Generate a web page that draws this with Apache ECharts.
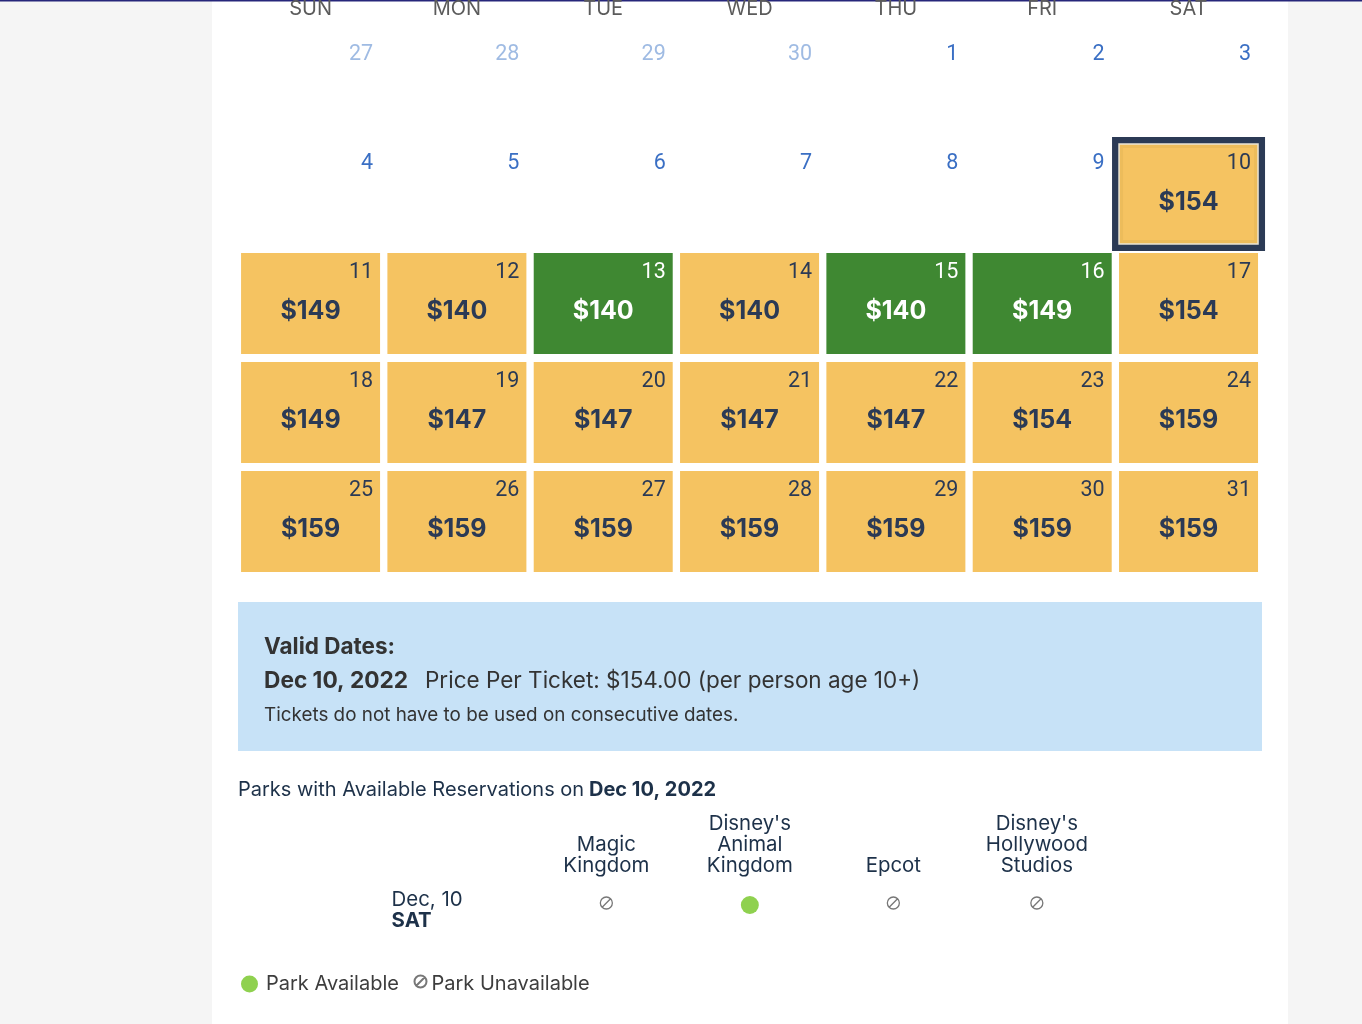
<!DOCTYPE html>
<html><head><meta charset="utf-8">
<style>html,body{margin:0;padding:0;background:#f5f5f5}#c{width:1362px;height:1024px}</style>
<script src="https://cdn.jsdelivr.net/npm/echarts@6/dist/echarts.min.js"></script>
</head><body><div id="c"></div>
<script>
const weekDays = ['SUN','MON','TUE','WED','THU','FRI','SAT'];
const weeks = ['w1','w2','w3','w4','w5'];
const dayNumbers = [27,28,29,30,1,2,3, 4,5,6,7,8,9,10, 11,12,13,14,15,16,17, 18,19,20,21,22,23,24, 25,26,27,28,29,30,31];
const prices = [null,null,null,null,null,null,null, null,null,null,null,null,null,154, 149,140,140,140,140,149,154, 149,147,147,147,147,154,159, 159,159,159,159,159,159,159];
const cellKinds = ['prev','prev','prev','prev','day','day','day', 'day','day','day','day','day','day','selected', 'gold','gold','green','gold','green','green','gold', 'gold','gold','gold','gold','gold','gold','gold', 'gold','gold','gold','gold','gold','gold','gold'];
const parks = ["Magic\nKingdom","Disney's\nAnimal\nKingdom","Epcot","Disney's\nHollywood\nStudios"];
const parkDates = ['{r|Dec, 10}\n{b|SAT}'];
const parkAvailable = [0,1,0,0];

const INK='#2b3a55', FONT='Inter, "Liberation Sans", sans-serif';
const GOLD='#f5c361', GREEN='#3f8832';
const cellData = dayNumbers.map((d,i)=>[i%7,Math.floor(i/7),d,prices[i],cellKinds[i]]);

function renderCell(params, api){
  const col=api.value(0), row=api.value(1), day=api.value(2), price=api.value(3), kind=cellKinds[params.dataIndex];
  const c=api.coord([col,row]);
  const w=139, h=101, x=c[0]-w/2, y=c[1]-h/2;
  const ch=[];
  if(kind==='selected'){
    ch.push({type:'rect',shape:{x:x-7,y:y-7,width:w+14,height:h+13},style:{fill:'#2b3a55'}});
    ch.push({type:'rect',shape:{x:x,y:y,width:w,height:h-1},style:{fill:GOLD,stroke:'#e9e4d4',lineWidth:1.5}});
    ch.push({type:'rect',shape:{x:x+2.5,y:y+2.5,width:w-5,height:h-6},style:{fill:'none',stroke:'rgba(190,145,60,0.15)',lineWidth:3}});
  } else if(kind==='gold'||kind==='green'){
    ch.push({type:'rect',shape:{x:x,y:y,width:w,height:h},style:{fill:kind==='gold'?GOLD:GREEN}});
  }
  const priced=kind==='gold'||kind==='green'||kind==='selected';
  const dayColor= kind==='prev'?'#9fbbe3': kind==='day'?'#3a6fc4': kind==='green'?'#ffffff':INK;
  ch.push({type:'text',style:{text:String(day),x:x+132,y:y+19.5,align:'right',verticalAlign:'middle',fill:dayColor,font:'400 21.5px Roboto, '+FONT}});
  if(priced){
    ch.push({type:'text',style:{text:'$'+price,x:c[0],y:y+58.5,align:'center',verticalAlign:'middle',fill:kind==='green'?'#ffffff':INK,font:'700 25px '+FONT}});
  }
  return {type:'group',children:ch};
}

const textEl=(text,x,y,font,fill)=>({type:'text',z:5,style:{text,x,y,font:font+' '+FONT,fill,verticalAlign:'middle',align:'left'}});
const NO_SYMBOL='path://M12 2a10 10 0 1 0 0.01 0zM5 19L19 5';
const NO_LEGEND_ICON='path://M12 2a10 10 0 1 0 0.01 0zM5 19L19 5M12 30L12 30';

const chart=echarts.init(document.getElementById('c'),null,{renderer:'canvas'});
chart.setOption({
  animation:false,
  backgroundColor:'#f5f5f5',
  grid:[
    {left:237.4,top:31,width:1024.3,height:545,containLabel:false,outerBoundsMode:'none'},
    {left:534.6,top:880,width:574,height:50,outerBoundsMode:'none'}
  ],
  xAxis:[
    {gridIndex:0,type:'category',position:'top',data:weekDays,axisLine:{show:false},axisTick:{show:false},splitLine:{show:false},
     axisLabel:{color:'#5b5b5b',fontFamily:'Inter',fontSize:20,margin:12.5,interval:0}},
    {gridIndex:1,type:'category',position:'top',data:parks,axisLine:{show:false},axisTick:{show:false},splitLine:{show:false},
     axisLabel:{color:'#1d3149',fontFamily:'Inter',fontSize:20.4,lineHeight:21,margin:4,interval:0,verticalAlign:'bottom'}}
  ],
  yAxis:[
    {gridIndex:0,type:'category',inverse:true,data:weeks,axisLine:{show:false},axisTick:{show:false},axisLabel:{show:false},splitLine:{show:false}},
    {gridIndex:1,type:'category',data:parkDates,axisLine:{show:false},axisTick:{show:false},splitLine:{show:false},
     axisLabel:{align:'left',margin:143,padding:[11,0,0,0],
       rich:{r:{color:'#1d3149',fontFamily:'Inter',fontSize:20.4,lineHeight:21},b:{color:'#1d3149',fontFamily:'Inter',fontWeight:700,fontSize:20.4,lineHeight:21}}}}
  ],
  legend:[
    {left:241,top:974,padding:0,itemWidth:17,itemHeight:17,itemGap:0,data:['Park Available'],textStyle:{color:'#3d3d3d',fontFamily:'Inter',fontSize:20,padding:[0,0,0,3]}},
    {left:412,top:973,padding:0,itemWidth:12,itemHeight:17,itemGap:0,data:[{name:'Park Unavailable',icon:NO_LEGEND_ICON}],textStyle:{color:'#3d3d3d',fontFamily:'Inter',fontSize:20}}
  ],
  graphic:[
    {type:'rect',z:-10,silent:true,shape:{x:212,y:0,width:1076,height:1024},style:{fill:'#ffffff'}},
    {type:'rect',z:-9,silent:true,shape:{x:0,y:0,width:1362,height:1.5},style:{fill:'#26267a'}},
    {type:'rect',z:-8,silent:true,shape:{x:238,y:602,width:1024,height:149},style:{fill:'#c7e2f7'}},
    textEl('Valid Dates:',264,647,'700 22.5px','#333333'),
    textEl('Dec 10, 2022',264,681,'700 22.7px','#333333'),
    textEl('Price Per Ticket: $154.00 (per person age 10+)',425,681,'400 22.5px','#333333'),
    textEl('Tickets do not have to be used on consecutive dates.',264,715,'400 18.85px','#333333'),
    textEl('Parks with Available Reservations on ',238,790,'400 20px','#1d3149'),
    textEl('Dec 10, 2022',589,790,'700 20px','#1d3149')
  ],
  series:[
    {type:'custom',xAxisIndex:0,yAxisIndex:0,coordinateSystem:'cartesian2d',clip:false,renderItem:renderCell,
     encode:{x:0,y:1},data:cellData.map(d=>d.slice(0,4).map(v=>v===null?'-':v))},
    {name:'Park Available',type:'scatter',xAxisIndex:1,yAxisIndex:1,symbol:'circle',symbolSize:18,
     itemStyle:{color:'#8fd14f',opacity:1},
     data:parkAvailable.map((v,i)=>v?[i,0]:null).filter(Boolean)},
    {name:'Park Unavailable',type:'scatter',xAxisIndex:1,yAxisIndex:1,symbol:NO_SYMBOL,symbolSize:12,symbolOffset:[0,-2],
     itemStyle:{color:'none',borderColor:'#777777',borderWidth:1.3,opacity:1},
     data:parkAvailable.map((v,i)=>v?null:[i,0]).filter(Boolean)}
  ]
});
</script></body></html>
